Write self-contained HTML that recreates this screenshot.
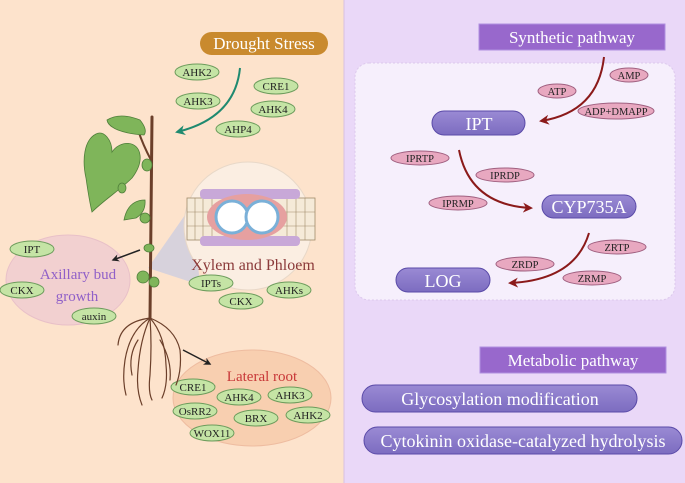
<!DOCTYPE html>
<html><head><style>
html,body{margin:0;padding:0;width:685px;height:483px;overflow:hidden;background:#fde3cc}
svg{display:block}
text{font-family:"Liberation Serif",serif}
</style></head><body>
<svg width="685" height="483" viewBox="0 0 685 483" xmlns="http://www.w3.org/2000/svg">
<defs>
<marker id="mr" viewBox="0 0 10 10" refX="8" refY="5" markerWidth="5" markerHeight="5" orient="auto"><path d="M0,0L10,5L0,10L3,5z" fill="#8b1a1a"/></marker>
<marker id="mt" viewBox="0 0 10 10" refX="8" refY="5" markerWidth="5" markerHeight="5" orient="auto"><path d="M0,0L10,5L0,10L3,5z" fill="#1f8a70"/></marker>
<marker id="mk" viewBox="0 0 10 10" refX="8" refY="5" markerWidth="5" markerHeight="5" orient="auto"><path d="M0,0L10,5L0,10L3,5z" fill="#222"/></marker>
<linearGradient id="pp" x1="0" y1="0" x2="0" y2="1"><stop offset="0" stop-color="#9a8ad4"/><stop offset="1" stop-color="#7c6cc0"/></linearGradient>
</defs>
<rect x="0" y="0" width="344" height="483" fill="#fde3cc"/>
<rect x="344" y="0" width="341" height="483" fill="#ead8f8"/>
<line x1="344" y1="0" x2="344" y2="483" stroke="#d8c0e0" stroke-width="1"/>

<!-- Drought -->
<rect x="200" y="32" width="128" height="23" rx="11.5" fill="#c98a2e"/>
<text x="264" y="49" font-size="17" fill="#fff" text-anchor="middle">Drought Stress</text>
<g fill="#c5e4a5" stroke="#6d9c5c" stroke-width="1">
<ellipse cx="197" cy="72" rx="22" ry="8"/><ellipse cx="276" cy="86" rx="22" ry="8"/>
<ellipse cx="198" cy="101" rx="22" ry="8"/><ellipse cx="273" cy="109" rx="22" ry="8"/>
<ellipse cx="238" cy="129" rx="22" ry="8"/>
</g>
<g font-size="11" fill="#222" text-anchor="middle">
<text x="197" y="76">AHK2</text><text x="276" y="90">CRE1</text><text x="198" y="105">AHK3</text><text x="273" y="113">AHK4</text><text x="238" y="133">AHP4</text>
</g>
<path d="M240,68 Q235,118 177,132" fill="none" stroke="#1f8a70" stroke-width="2" marker-end="url(#mt)"/>

<!-- zoom circle + wedge -->
<path d="M148,268 L192,205 L200,285 Z" fill="#d7d2dc"/>
<circle cx="248" cy="226" r="64" fill="#fbeee2" stroke="#e8d8c8"/>
<rect x="187" y="198" width="128" height="42" fill="#f5ead8" stroke="#a08a6a" stroke-width="0.8"/>
<g stroke="#a08a6a" stroke-width="0.6">
<line x1="195" y1="198" x2="195" y2="240"/><line x1="203" y1="198" x2="203" y2="240"/><line x1="212" y1="198" x2="212" y2="240"/>
<line x1="287" y1="198" x2="287" y2="240"/><line x1="296" y1="198" x2="296" y2="240"/><line x1="305" y1="198" x2="305" y2="240"/>
<line x1="187" y1="212" x2="215" y2="212"/><line x1="187" y1="226" x2="215" y2="226"/>
<line x1="282" y1="212" x2="315" y2="212"/><line x1="282" y1="226" x2="315" y2="226"/>
</g>
<rect x="200" y="189" width="100" height="10" rx="4" fill="#c8a8d8"/>
<rect x="200" y="236" width="100" height="10" rx="4" fill="#c8a8d8"/>
<ellipse cx="247" cy="217" rx="40" ry="23" fill="#e6a0a0"/>
<circle cx="232" cy="217" r="16" fill="#fff" stroke="#7ab0d8" stroke-width="3"/>
<circle cx="262" cy="217" r="16" fill="#fff" stroke="#7ab0d8" stroke-width="3"/>
<text x="253" y="270" font-size="16" fill="#8b3a3a" text-anchor="middle">Xylem and Phloem</text>

<!-- axillary -->
<ellipse cx="68" cy="280" rx="62" ry="45" fill="#f2d0d0" stroke="#e8c0c8"/>
<text x="78" y="279" font-size="15" fill="#9060c8" text-anchor="middle">Axillary bud</text>
<text x="77" y="301" font-size="15" fill="#9060c8" text-anchor="middle">growth</text>
<path d="M140,250 L113,260" stroke="#222" stroke-width="1.5" marker-end="url(#mk)"/>

<!-- lateral -->
<ellipse cx="252" cy="398" rx="79" ry="48" fill="#f8cfb0" stroke="#eebca0"/>
<text x="262" y="381" font-size="15" fill="#c83838" text-anchor="middle">Lateral root</text>
<path d="M183,350 L210,364" stroke="#222" stroke-width="1.5" marker-end="url(#mk)"/>

<g fill="#c5e4a5" stroke="#6d9c5c" stroke-width="1">
<ellipse cx="211" cy="283" rx="22" ry="8"/><ellipse cx="241" cy="301" rx="22" ry="8"/><ellipse cx="289" cy="290" rx="22" ry="8"/>
<ellipse cx="32" cy="249" rx="22" ry="8"/><ellipse cx="22" cy="290" rx="22" ry="8"/><ellipse cx="94" cy="316" rx="22" ry="8"/>
<ellipse cx="193" cy="387" rx="22" ry="8"/><ellipse cx="239" cy="397" rx="22" ry="8"/><ellipse cx="290" cy="395" rx="22" ry="8"/>
<ellipse cx="195" cy="411" rx="22" ry="8"/><ellipse cx="256" cy="418" rx="22" ry="8"/><ellipse cx="308" cy="415" rx="22" ry="8"/>
<ellipse cx="212" cy="433" rx="22" ry="8"/>
</g>
<g font-size="11" fill="#222" text-anchor="middle">
<text x="211" y="287">IPTs</text><text x="241" y="305">CKX</text><text x="289" y="294">AHKs</text>
<text x="32" y="253">IPT</text><text x="22" y="294">CKX</text><text x="94" y="320">auxin</text>
<text x="193" y="391">CRE1</text><text x="239" y="401">AHK4</text><text x="290" y="399">AHK3</text>
<text x="195" y="415">OsRR2</text><text x="256" y="422">BRX</text><text x="308" y="419">AHK2</text>
<text x="212" y="437">WOX11</text>
</g>

<!-- plant -->
<g stroke="#6b3f2a" fill="none" stroke-linecap="round">
<path d="M152,117 L150,318" stroke-width="3"/>
<path d="M151,160 Q143,145 138,130" stroke-width="2"/>
<g stroke-width="1.2">
<path d="M150,318 Q130,330 125,360 Q122,380 126,395"/>
<path d="M150,318 Q140,340 138,370 Q136,390 142,405"/>
<path d="M150,318 Q152,345 150,375 Q148,392 152,400"/>
<path d="M150,318 Q165,335 166,365 Q168,385 162,398"/>
<path d="M150,318 Q175,328 180,350 Q182,370 176,385"/>
<path d="M150,318 Q120,322 118,345"/>
<path d="M138,340 Q128,355 132,375"/>
<path d="M160,340 Q172,360 170,380"/>
</g>
</g>
<g fill="#7fb55a" stroke="#4f7f3a" stroke-width="0.8">
<path d="M140,155 C138,140 120,140 112,152 C112,140 104,130 96,134 C84,140 82,160 86,178 C88,192 90,204 92,212 C104,200 120,190 132,178 C138,170 141,162 140,155 Z"/>
<path d="M107,120 Q120,112 140,120 Q148,130 144,135 Q128,134 118,130 Q108,126 107,120 Z"/>
<path d="M124,220 Q128,200 145,200 Q146,212 136,218 Z"/>
<ellipse cx="147" cy="165" rx="5" ry="6"/><ellipse cx="145" cy="218" rx="5" ry="5"/>
<ellipse cx="149" cy="248" rx="5" ry="4"/><ellipse cx="143" cy="277" rx="6" ry="6"/><ellipse cx="154" cy="282" rx="5" ry="5"/>
<ellipse cx="122" cy="188" rx="4" ry="5"/>
</g>

<!-- right panel -->
<rect x="479" y="24" width="186" height="26" fill="#9868cc" stroke="#b090e0"/>
<text x="572" y="43" font-size="17" fill="#fff" text-anchor="middle">Synthetic pathway</text>
<rect x="355" y="63" width="320" height="237" rx="14" fill="#f6effc" stroke="#dcc8ec" stroke-dasharray="2,2"/>
<g fill="#e8a8c0" stroke="#a06080" stroke-width="1">
<ellipse cx="629" cy="75" rx="19" ry="7"/><ellipse cx="557" cy="91" rx="19" ry="7"/><ellipse cx="616" cy="111" rx="38" ry="8"/>
<ellipse cx="420" cy="158" rx="29" ry="7"/><ellipse cx="505" cy="175" rx="29" ry="7"/><ellipse cx="458" cy="203" rx="29" ry="7"/>
<ellipse cx="617" cy="247" rx="29" ry="7"/><ellipse cx="525" cy="264" rx="29" ry="7"/><ellipse cx="592" cy="278" rx="29" ry="7"/>
</g>
<g font-size="10.5" fill="#222" text-anchor="middle">
<text x="629" y="79">AMP</text><text x="557" y="95">ATP</text><text x="616" y="115">ADP+DMAPP</text>
<text x="420" y="162">IPRTP</text><text x="505" y="179">IPRDP</text><text x="458" y="207">IPRMP</text>
<text x="617" y="251">ZRTP</text><text x="525" y="268">ZRDP</text><text x="592" y="282">ZRMP</text>
</g>
<g fill="url(#pp)" stroke="#5a4aa8" stroke-width="1">
<rect x="432" y="111" width="93" height="24" rx="12"/>
<rect x="542" y="195" width="94" height="23" rx="11.5"/>
<rect x="396" y="268" width="94" height="24" rx="12"/>
<rect x="362" y="385" width="275" height="27" rx="13.5"/>
<rect x="364" y="427" width="318" height="27" rx="13.5"/>
</g>
<g font-size="18" fill="#fff" text-anchor="middle">
<text x="479" y="130">IPT</text><text x="589" y="213">CYP735A</text><text x="443" y="287">LOG</text>
<text x="500" y="405">Glycosylation modification</text>
<text x="523" y="447">Cytokinin oxidase-catalyzed hydrolysis</text>
</g>
<path d="M604,57 Q598,112 541,121" fill="none" stroke="#8b1a1a" stroke-width="2" marker-end="url(#mr)"/>
<path d="M459,150 Q470,205 531,208" fill="none" stroke="#8b1a1a" stroke-width="2" marker-end="url(#mr)"/>
<path d="M589,233 Q575,280 510,283" fill="none" stroke="#8b1a1a" stroke-width="2" marker-end="url(#mr)"/>
<rect x="480" y="347" width="186" height="26" fill="#9868cc" stroke="#b090e0"/>
<text x="573" y="366" font-size="17" fill="#fff" text-anchor="middle">Metabolic pathway</text>
</svg>
</body></html>
